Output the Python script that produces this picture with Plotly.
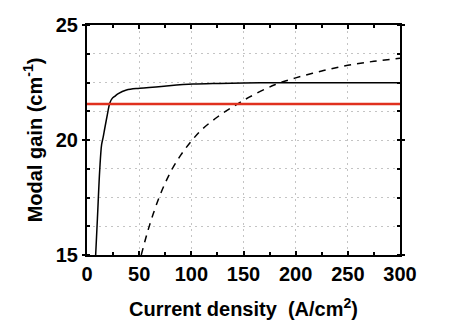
import plotly.graph_objects as go

# Solid curve
solid_x = [8.3, 10, 12.2, 14, 15.4, 17, 19.5, 21.8, 24, 26.6, 30, 37.8, 50.5, 76, 101.6, 126.7, 150, 175, 200, 250, 300]
solid_y = [15.0, 16.6, 18.7, 19.8, 20.1, 20.5, 21.1, 21.6, 21.8, 21.9, 22.02, 22.17, 22.25, 22.35, 22.43, 22.46, 22.48, 22.49, 22.49, 22.49, 22.49]

# Dashed curve
dash_x = [52, 60, 70, 80, 90, 100, 110, 125, 140, 155, 180, 200, 225, 250, 275, 300]
dash_y = [15.0, 16.3, 17.6, 18.6, 19.35, 19.95, 20.45, 21.0, 21.45, 21.85, 22.4, 22.7, 23.0, 23.25, 23.42, 23.55]

# Reference (threshold) level
threshold = 21.57

x_range = [0, 300]
y_range = [15, 25]
x_ticks = [0, 50, 100, 150, 200, 250, 300]
y_ticks = [15, 20, 25]

fig = go.Figure()
fig.add_trace(go.Scatter(x=solid_x, y=solid_y, mode="lines",
                         line=dict(color="black", width=1.5), line_shape="spline",
                         showlegend=False))
fig.add_trace(go.Scatter(x=dash_x, y=dash_y, mode="lines",
                         line=dict(color="black", width=1.5, dash="7px,6px"), line_shape="spline",
                         showlegend=False))
fig.add_trace(go.Scatter(x=x_range, y=[threshold, threshold], mode="lines",
                         line=dict(color="#e0301e", width=2.5), showlegend=False))

font_family = "Liberation Sans, Arial, sans-serif"
grid_col = "#c4c4c4"

fig.update_layout(
    width=474, height=330,
    margin=dict(l=87, r=74, t=25, b=75),
    paper_bgcolor="white", plot_bgcolor="white",
    font=dict(family=font_family, color="black"),
    xaxis=dict(
        range=x_range, tickmode="array", tickvals=x_ticks,
        ticktext=[f"<b>{v}</b>" for v in x_ticks],
        ticks="inside", ticklen=4, tickwidth=1.5, tickcolor="black",
        showline=True, linewidth=2, linecolor="black", mirror="ticks",
        showgrid=True, gridcolor=grid_col, griddash="2px,4px", gridwidth=1,
        zeroline=False,
        tickfont=dict(size=20, family=font_family, color="black"),
        minor=dict(dtick=25, tick0=0, ticks="inside", ticklen=3, tickcolor="black", showgrid=False),
        title=dict(text="<b>Current density  (A/cm<sup>2</sup>)</b>",
                   font=dict(size=20, family=font_family, color="black"), standoff=18),
    ),
    yaxis=dict(
        range=y_range, tickmode="array", tickvals=y_ticks,
        ticktext=[f"<b>{v}</b>" for v in y_ticks],
        ticks="outside", ticklen=3, tickwidth=1.5, tickcolor="black",
        showline=True, linewidth=2, linecolor="black", mirror="ticks",
        showgrid=True, gridcolor=grid_col, griddash="2px,4px", gridwidth=1,
        zeroline=False,
        tickfont=dict(size=20, family=font_family, color="black"),
        minor=dict(dtick=1.25, tick0=15, ticks="inside", ticklen=3, tickcolor="black",
                   showgrid=True, gridcolor=grid_col, griddash="2px,4px", gridwidth=1),
        title=dict(text="<b>Modal gain (cm<sup>-1</sup>)</b>",
                   font=dict(size=20, family=font_family, color="black"), standoff=8),
    ),
)

fig.write_html("out.html")
